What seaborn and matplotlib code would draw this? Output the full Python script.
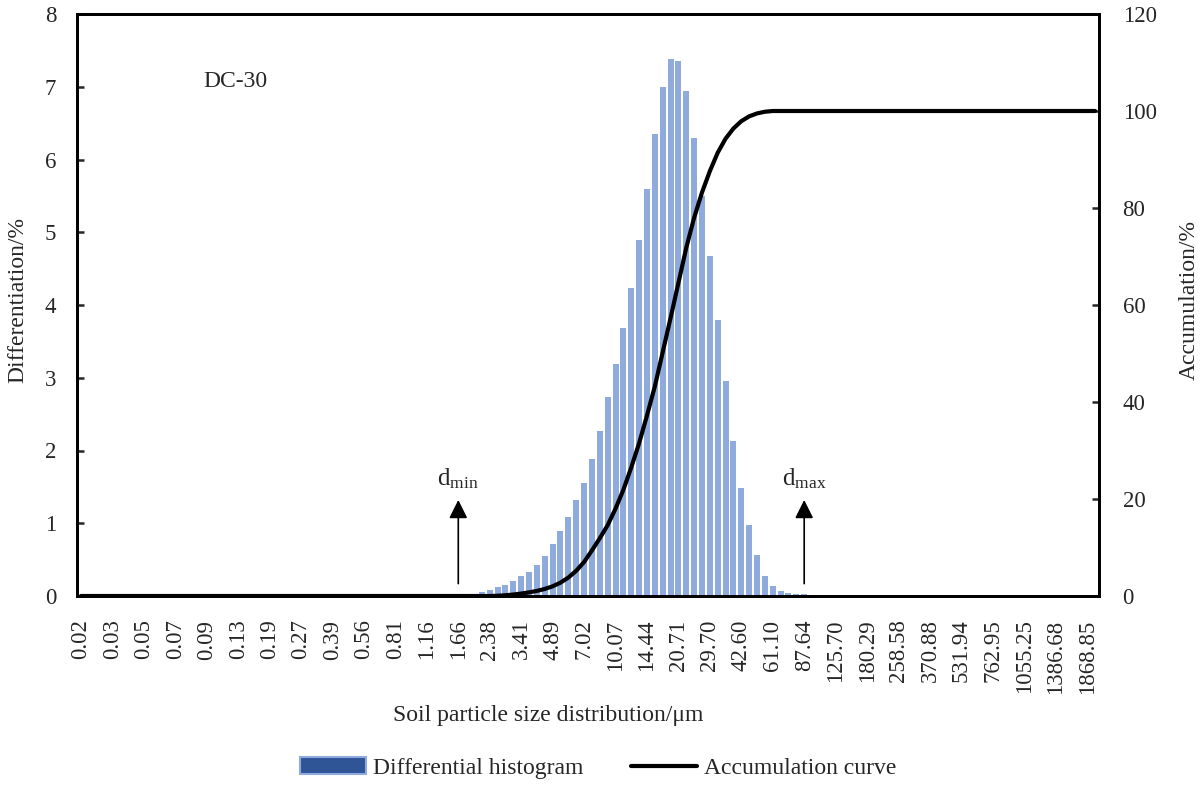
import numpy as np
import pandas as pd
import matplotlib
matplotlib.use("Agg")
import matplotlib.pyplot as plt
from matplotlib.patches import Patch
from matplotlib.lines import Line2D
import seaborn as sns

# particle size classes (130 bins), every 4th one labelled on the axis
n_bins = 130
tick_labels = ["0.02", "0.03", "0.05", "0.07", "0.09", "0.13", "0.19", "0.27",
               "0.39", "0.56", "0.81", "1.16", "1.66", "2.38", "3.41", "4.89",
               "7.02", "10.07", "14.44", "20.71", "29.70", "42.60", "61.10",
               "87.64", "125.70", "180.29", "258.58", "370.88", "531.94",
               "762.95", "1055.25", "1386.68", "1868.85"]

# differential %, bins 48..92 (all other bins are empty)
diff_nonzero = [0.03, 0.03, 0.03, 0.05, 0.08, 0.12, 0.15, 0.21, 0.27, 0.33,
                0.43, 0.55, 0.71, 0.89, 1.09, 1.32, 1.56, 1.89, 2.27, 2.73,
                3.19, 3.69, 4.24, 4.90, 5.60, 6.35, 6.99, 7.38, 7.36, 6.94,
                6.29, 5.50, 4.67, 3.80, 2.95, 2.13, 1.48, 0.98, 0.56, 0.28,
                0.14, 0.07, 0.04, 0.03, 0.03]
differential = [0.0] * 48 + diff_nonzero + [0.0] * 37

# accumulation %, bins 53..87 rising, 0 before and 100 after
acc_rising = [0.05, 0.15, 0.3, 0.5, 0.75, 1.05, 1.45, 2.0, 2.75, 3.8, 5.2,
              7.0, 9.4, 11.9, 14.6, 18.0, 21.9, 26.5, 31.5, 37.2, 43.2, 50.2,
              57.3, 64.5, 71.8, 78.0, 83.2, 87.6, 91.4, 94.3, 96.4, 97.9,
              98.9, 99.5, 99.85]
accumulation = [0.0] * 53 + acc_rising + [100.0] * 42

d_min_bin = 48
d_max_bin = 92

df = pd.DataFrame({"bin": np.arange(n_bins), "diff": differential, "acc": accumulation})

sns.set_style("white")
plt.rcParams["font.family"] = ["Liberation Serif", "DejaVu Serif"]
plt.rcParams["mathtext.fontset"] = "custom"
plt.rcParams["mathtext.rm"] = "Liberation Serif"
plt.rcParams["mathtext.it"] = "Liberation Serif"

bar_color = "#8FAADC"
fs = 17
tfs = 16.5

fig = plt.figure(figsize=(12, 7.87), dpi=100)
ax = fig.add_axes([77 / 1200, 1 - 596 / 787, (1099 - 77) / 1200, (596 - 14) / 787])

sns.barplot(data=df, x="bin", y="diff", color=bar_color, width=0.76,
            saturation=1, linewidth=0, ax=ax, zorder=2)
ax.set_ylim(0, 8)
ax.set_yticks(range(0, 9))
ax.set_xticks(range(0, n_bins, 4))
ax.set_xticklabels(tick_labels, rotation=90)
ax.tick_params(axis="x", length=0, pad=17, labelsize=tfs)
ax.tick_params(axis="y", direction="in", length=5, width=1.8, pad=15, labelsize=tfs)
ax.set_xlabel("")
ax.set_ylabel("")

ax2 = ax.twinx()
sns.lineplot(data=df, x="bin", y="acc", color="black", linewidth=3.0, ax=ax2,
             solid_joinstyle="round", solid_capstyle="round")
ax2.set_ylim(0, 120)
ax2.set_yticks(range(0, 121, 20))
ax2.tick_params(axis="y", direction="in", length=5, width=1.8, pad=17, labelsize=tfs)
ax2.set_ylabel("")
ax.set_xlim(-0.5, n_bins - 0.5)
ax2.set_xlim(-0.5, n_bins - 0.5)

for a in (ax, ax2):
    for s in a.spines.values():
        s.set_color("black")
        s.set_linewidth(2.0)

# d_min / d_max markers
for b, lab in [(d_min_bin, r"d$_{\mathrm{min}}$"), (d_max_bin, r"d$_{\mathrm{max}}$")]:
    ax.annotate("", xy=(b, 1.32), xytext=(b, 0.17),
                arrowprops=dict(arrowstyle="-|>", color="black", lw=1.2,
                                mutation_scale=28, shrinkA=0, shrinkB=0))
    ax.text(b, 1.45, lab, ha="center", va="bottom", fontsize=fs + 1)

ax.text(19.7, 7.07, "DC-30", ha="center", va="center", fontsize=fs)

fig.text(548 / 1200, 1 - 715 / 787, "Soil particle size distribution/\u03bcm",
         ha="center", va="center", fontsize=fs)
fig.text(18 / 1200, 1 - 300 / 787, "Differentiation/%", rotation=90,
         ha="center", va="center", fontsize=fs)
fig.text(1189 / 1200, 1 - 300 / 787, "Accumulation/%", rotation=90,
         ha="center", va="center", fontsize=fs)

handles = [Patch(facecolor="#2F5597", edgecolor=bar_color, linewidth=1.5),
           Line2D([0], [0], color="black", linewidth=3.0)]
fig.legend(handles, ["Differential histogram", "Accumulation curve"],
           loc="center", bbox_to_anchor=(598 / 1200, 1 - 768 / 787), ncol=2,
           frameon=False, fontsize=fs, handlelength=2.8, handleheight=0.7,
           columnspacing=2.0, handletextpad=0.3)

fig.savefig("out.png", dpi=100)
